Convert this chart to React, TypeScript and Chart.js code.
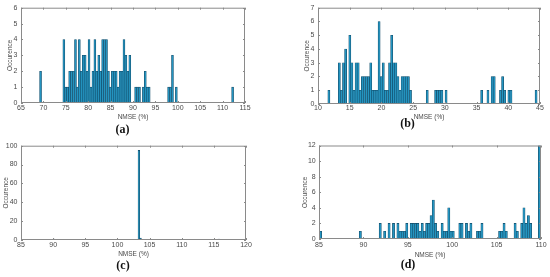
import React, { useEffect, useRef } from "react";
import { Chart, registerables } from "chart.js";

Chart.register(...registerables);

// ---------- data (histograms, 100 bins each) ----------
const binStartA = 69.15;
const binWidthA = 0.433;
const countsA = [
  2, 0, 0, 0, 0, 0, 0, 0, 0, 0, 0, 0,
  4, 1, 1, 2, 2, 2, 4, 1, 4, 2, 3, 3, 2, 4, 1, 2, 4, 2, 3, 2, 4, 4, 4, 2, 1, 2, 2, 2, 1, 2, 2, 4, 3, 2, 3,
  0, 0, 1, 1, 1, 0, 1, 2, 1, 1,
  0, 0, 0, 0, 0, 0, 0, 0, 0,
  1, 1, 3, 0, 1,
  0, 0, 0, 0, 0, 0, 0, 0, 0, 0, 0, 0, 0, 0, 0, 0, 0, 0, 0, 0, 0, 0, 0, 0, 0, 0, 0, 0,
  1,
];
const xTicksA = { min: 65, max: 115, step: 5 };
const yTicksA = { min: 0, max: 6, step: 1 };

const binStartB = 11.55;
const binWidthB = 0.33;
const countsB = [
  1, 0, 0, 0, 0, 3, 1, 3, 4, 0, 5, 3, 1, 3, 3, 1, 2, 2, 2, 2, 3, 1, 1, 1, 6, 2, 3, 1, 1, 3, 5, 3, 3, 2, 1, 2, 2, 2, 2, 1,
  0, 0, 0, 0, 0, 0, 0, 1, 0, 0, 0, 1, 1, 1, 1, 0, 1,
  0, 0, 0, 0, 0, 0, 0, 0, 0, 0, 0, 0, 0, 0, 0, 0,
  1, 0, 0, 1, 0, 2, 2, 0, 0, 1, 2, 1, 0, 1, 1,
  0, 0, 0, 0, 0, 0, 0, 0, 0, 0, 0,
  1,
];
const xTicksB = { min: 10, max: 45, step: 5 };
const yTicksB = { min: 0, max: 7, step: 1 };

const binStartC = 90.0;
const binWidthC = 0.259;
const countsC = [
  1, 0, 0, 0, 0, 0, 0, 0, 0, 0, 0, 0, 0, 0, 0, 0, 0, 0, 0, 0, 0, 0, 0, 0, 0, 0, 0, 0, 0, 0, 0, 0, 0, 0, 0, 0, 0, 0, 0, 0, 0, 0, 0, 0, 0, 0, 0, 0, 0, 0, 0,
  95, 2,
  0, 0, 0, 0, 0, 0, 0, 0, 0, 0, 0, 0, 0, 0, 0, 0, 0, 0, 0, 0, 0, 0, 0, 0, 0, 0, 0, 0, 0, 0, 0, 0, 0, 0, 0, 0, 0, 0, 0, 0, 0, 0, 0, 0, 0, 0,
  1,
];
const xTicksC = { min: 85, max: 120, step: 5 };
const yTicksC = { min: 0, max: 100, step: 20 };

const binStartD = 85.05;
const binWidthD = 0.249;
const countsD = [
  1, 0, 0, 0, 0, 0, 0, 0, 0, 0, 0, 0, 0, 0, 0, 0, 0, 0, 1, 0, 0, 0, 0, 0, 0, 0, 0,
  2, 0, 1, 0, 2, 0, 2, 0, 2, 1, 1, 1, 2, 0, 2, 2, 2, 2, 1, 2, 1, 2, 2, 3, 5, 2, 1, 0, 2, 1, 1, 4, 1, 1,
  0, 0, 2, 2, 0, 2, 1, 2, 0, 0, 1, 1, 2,
  0, 0, 0, 0, 0, 0, 0, 1, 1, 2, 1, 0, 0, 0, 2, 1, 0, 2, 4, 2, 3, 2, 0, 0, 0,
  12,
];
const xTicksD = { min: 85, max: 110, step: 5 };
const yTicksD = { min: 0, max: 12, step: 2 };

const captions = ["(a)", "(b)", "(c)", "(d)"];
const xTitle = "NMSE (%)";
const yTitle = "Occurence";

// ---------- styling ----------
const BAR_FILL = "#2494c0";
const BAR_EDGE = "#124a66";
const TEXT = "#4a4a4a";
const BOX = "#8a8a8a";
const SANS = "'Liberation Sans', Arial, sans-serif";

const boxPlugin = {
  id: "matlabBox",
  afterDatasetsDraw(chart: any) {
    const { ctx, chartArea: a, scales } = chart;
    const x = scales.x;
    const y = scales.y;
    ctx.save();
    ctx.strokeStyle = BOX;
    ctx.lineWidth = 1;
    ctx.strokeRect(a.left + 0.5, a.top + 0.5, a.right - a.left - 1, a.bottom - a.top - 1);
    const tl = 2;
    ctx.beginPath();
    for (const t of x.ticks) {
      const px = Math.round(x.getPixelForValue(t.value)) + 0.5;
      ctx.moveTo(px, a.bottom);
      ctx.lineTo(px, a.bottom - tl);
      ctx.moveTo(px, a.top);
      ctx.lineTo(px, a.top + tl);
    }
    for (const t of y.ticks) {
      const py = Math.round(y.getPixelForValue(t.value)) + 0.5;
      ctx.moveTo(a.left, py);
      ctx.lineTo(a.left + tl, py);
      ctx.moveTo(a.right, py);
      ctx.lineTo(a.right - tl, py);
    }
    ctx.stroke();
    ctx.restore();
  },
};

type Spec = {
  left: number;
  top: number;
  width: number;
  height: number;
  binStart: number;
  binWidth: number;
  counts: number[];
  xt: { min: number; max: number; step: number };
  yt: { min: number; max: number; step: number };
  caption: string;
  padTop: number;
  padRight: number;
  yAxisWidth: number;
  yTickPad: number;
  yTitlePad: number;
  xAxisHeight: number;
  xTickPad: number;
  xTitlePadBottom: number;
  capPadTop: number;
  capPadBottom: number;
};

const specs: Spec[] = [
  {
    left: 0, top: 0, width: 266, height: 138,
    binStart: binStartA, binWidth: binWidthA, counts: countsA, xt: xTicksA, yt: yTicksA, caption: captions[0],
    padTop: 7, padRight: 21, yAxisWidth: 21, yTickPad: 3.5, yTitlePad: 6,
    xAxisHeight: 19.8, xTickPad: 1, xTitlePadBottom: 1.4, capPadTop: 0, capPadBottom: 0.8,
  },
  {
    left: 275, top: 0, width: 271, height: 138,
    binStart: binStartB, binWidth: binWidthB, counts: countsB, xt: xTicksB, yt: yTicksB, caption: captions[1],
    padTop: 7, padRight: 6, yAxisWidth: 43, yTickPad: 3.5, yTitlePad: 28,
    xAxisHeight: 16.8, xTickPad: 0, xTitlePadBottom: 0, capPadTop: -4, capPadBottom: 6.8,
  },
  {
    left: 0, top: 138, width: 254, height: 139,
    binStart: binStartC, binWidth: binWidthC, counts: countsC, xt: xTicksC, yt: yTicksC, caption: captions[2],
    padTop: 5, padRight: 8, yAxisWidth: 21, yTickPad: 3.5, yTitlePad: 2.8,
    xAxisHeight: 19.1, xTickPad: 1, xTitlePadBottom: 0.5, capPadTop: 0, capPadBottom: 3.5,
  },
  {
    left: 275, top: 138, width: 274, height: 139,
    binStart: binStartD, binWidth: binWidthD, counts: countsD, xt: xTicksD, yt: yTicksD, caption: captions[3],
    padTop: 5, padRight: 8, yAxisWidth: 44, yTickPad: 3.3, yTitlePad: 26.8,
    xAxisHeight: 21.1, xTickPad: 1.5, xTitlePadBottom: 0.9, capPadTop: -2, capPadBottom: 4.5,
  },
];

function Panel({ s }: { s: Spec }) {
  const ref = useRef<HTMLCanvasElement>(null);
  useEffect(() => {
    if (!ref.current) return;
    const points = s.counts.map((c, i) => ({ x: s.binStart + s.binWidth * (i + 0.5), y: c }));
    const chart = new Chart(ref.current, {
      type: "bar",
      data: {
        datasets: [
          {
            data: points as any,
            backgroundColor: BAR_FILL,
            borderColor: BAR_EDGE,
            borderWidth: ((ctx: any) => (ctx.raw && ctx.raw.y > 0 ? 0.6 : 0)) as any,
            borderSkipped: false,
            barPercentage: 1,
            categoryPercentage: 1,
          },
        ],
      },
      options: {
        responsive: false,
        animation: false,
        events: [],
        layout: { padding: { top: s.padTop, right: s.padRight, left: 0, bottom: 0 } },
        plugins: {
          legend: { display: false },
          tooltip: { enabled: false },
          title: {
            display: true,
            text: s.caption,
            position: "bottom",
            color: "#111",
            font: { family: "'Liberation Serif', 'Times New Roman', serif", size: 12, weight: "bold", lineHeight: 1.2 },
            padding: { top: s.capPadTop, bottom: s.capPadBottom },
          },
        },
        scales: {
          x: {
            type: "linear",
            min: s.xt.min,
            max: s.xt.max,
            offset: false,
            grid: { display: false, drawTicks: false, offset: false },
            border: { display: false },
            ticks: {
              stepSize: s.xt.step,
              autoSkip: false,
              maxRotation: 0,
              padding: s.xTickPad,
              color: TEXT,
              font: { family: SANS, size: 7 },
            },
            title: {
              display: true,
              text: xTitle,
              color: TEXT,
              font: { family: SANS, size: 6.5, lineHeight: 1.2 },
              padding: { top: 0, bottom: s.xTitlePadBottom },
            },
            afterFit: (sc: any) => {
              sc.height = s.xAxisHeight;
            },
          },
          y: {
            type: "linear",
            min: s.yt.min,
            max: s.yt.max,
            grid: { display: false, drawTicks: false },
            border: { display: false },
            ticks: {
              stepSize: s.yt.step,
              padding: s.yTickPad,
              color: TEXT,
              font: { family: SANS, size: 7 },
            },
            title: {
              display: true,
              text: yTitle,
              color: TEXT,
              font: { family: SANS, size: 6.5, lineHeight: 1.2 },
              padding: { top: s.yTitlePad, bottom: 0 },
            },
            afterFit: (sc: any) => {
              sc.width = s.yAxisWidth;
            },
          },
        },
      },
      plugins: [boxPlugin],
    });
    return () => chart.destroy();
  }, []);
  return (
    <canvas
      ref={ref}
      width={s.width}
      height={s.height}
      style={{ position: "absolute", left: s.left, top: s.top, width: s.width, height: s.height }}
    />
  );
}

export default function App() {
  return (
    <div style={{ position: "absolute", left: 0, top: 0, width: 550, height: 277, background: "#fff" }}>
      {specs.map((s, i) => (
        <Panel key={i} s={s} />
      ))}
    </div>
  );
}
